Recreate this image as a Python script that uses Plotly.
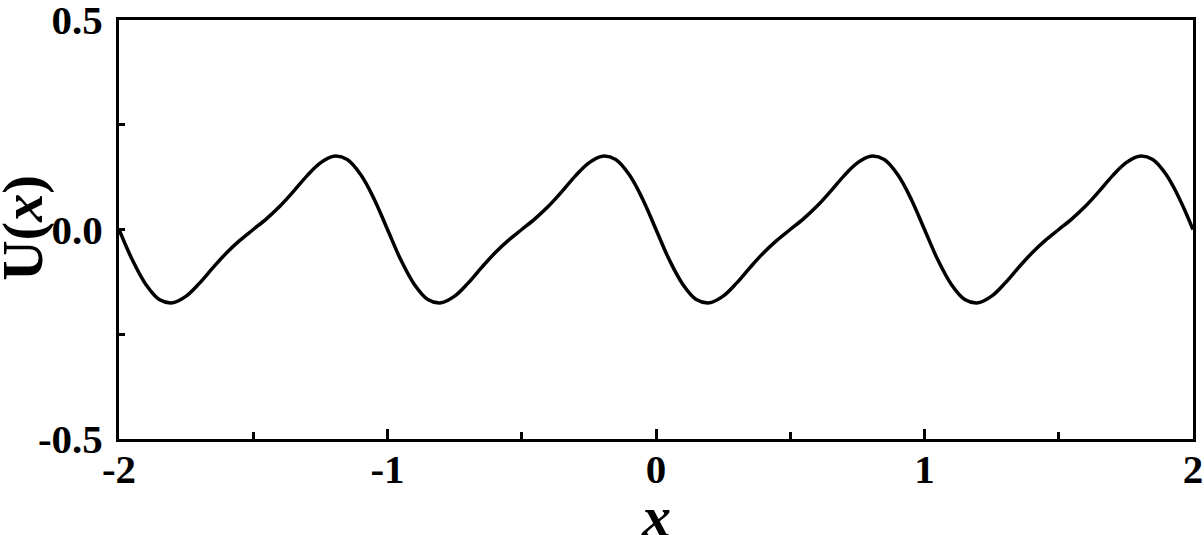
import plotly.graph_objects as go

# sample positions along x
x_vals = [-2.00, -1.95, -1.90, -1.85, -1.80, -1.75, -1.70, -1.65, -1.60, -1.55,
          -1.50, -1.45, -1.40, -1.35, -1.30, -1.25, -1.20, -1.15, -1.10, -1.05,
          -1.00, -0.95, -0.90, -0.85, -0.80, -0.75, -0.70, -0.65, -0.60, -0.55,
          -0.50, -0.45, -0.40, -0.35, -0.30, -0.25, -0.20, -0.15, -0.10, -0.05,
          0.00, 0.05, 0.10, 0.15, 0.20, 0.25, 0.30, 0.35, 0.40, 0.45,
          0.50, 0.55, 0.60, 0.65, 0.70, 0.75, 0.80, 0.85, 0.90, 0.95,
          1.00, 1.05, 1.10, 1.15, 1.20, 1.25, 1.30, 1.35, 1.40, 1.45,
          1.50, 1.55, 1.60, 1.65, 1.70, 1.75, 1.80, 1.85, 1.90, 1.95,
          2.00]

# potential U(x)
u_vals = [0.000, -0.073, -0.131, -0.167, -0.175, -0.159, -0.128, -0.091, -0.056, -0.026,
          0.000, 0.026, 0.056, 0.091, 0.128, 0.159, 0.175, 0.167, 0.131, 0.073,
          0.000, -0.073, -0.131, -0.167, -0.175, -0.159, -0.128, -0.091, -0.056, -0.026,
          0.000, 0.026, 0.056, 0.091, 0.128, 0.159, 0.175, 0.167, 0.131, 0.073,
          0.000, -0.073, -0.131, -0.167, -0.175, -0.159, -0.128, -0.091, -0.056, -0.026,
          0.000, 0.026, 0.056, 0.091, 0.128, 0.159, 0.175, 0.167, 0.131, 0.073,
          0.000, -0.073, -0.131, -0.167, -0.175, -0.159, -0.128, -0.091, -0.056, -0.026,
          0.000, 0.026, 0.056, 0.091, 0.128, 0.159, 0.175, 0.167, 0.131, 0.073,
          0.000]

x_ticks = [-2, -1, 0, 1, 2]
x_labels = ["-2", "-1", "0", "1", "2"]
y_ticks = [-0.5, 0.0, 0.5]
y_labels = ["-0.5", "0.0", "0.5"]

serif = "Liberation Serif"

fig = go.Figure()
fig.add_trace(go.Scatter(
    x=x_vals, y=u_vals, mode="lines",
    line=dict(color="black", width=3.5, shape="spline"),
    showlegend=False,
))

fig.update_layout(
    width=1204, height=535,
    margin=dict(l=119, r=11, t=20, b=96, autoexpand=False),
    plot_bgcolor="white", paper_bgcolor="white",
)

fig.update_xaxes(
    range=[-2, 2], tickvals=x_ticks, ticktext=x_labels,
    showline=True, linecolor="black", linewidth=3, mirror=True,
    ticks="inside", ticklen=10, tickwidth=2.5, tickcolor="black",
    minor=dict(ticks="inside", dtick=0.5, ticklen=7, tickwidth=2.5, tickcolor="black"),
    showgrid=False, zeroline=False, automargin=False,
    ticklabelstandoff=-8, ticklabeloverflow="allow",
    tickfont=dict(family=serif, size=41, color="black", weight="bold"),
)

fig.update_yaxes(
    range=[-0.5, 0.5], tickvals=y_ticks, ticktext=y_labels,
    showline=True, linecolor="black", linewidth=3, mirror=True,
    ticks="inside", ticklen=6, tickwidth=2.5, tickcolor="black",
    minor=dict(ticks="inside", dtick=0.25, ticklen=6, tickwidth=2.5, tickcolor="black"),
    showgrid=False, zeroline=False, automargin=False,
    ticklabelstandoff=5, ticklabeloverflow="allow",
    tickfont=dict(family=serif, size=41, color="black", weight="bold"),
)

# axis titles
fig.add_annotation(
    text="<i>x</i>", xref="paper", yref="paper", x=0.5, y=-0.185,
    xanchor="center", yanchor="middle", showarrow=False,
    font=dict(family=serif, size=58, color="black", weight="bold"),
)
fig.add_annotation(
    text="U(<i>x</i>)", xref="paper", yref="paper", x=-0.089, y=0.505,
    xanchor="center", yanchor="middle", showarrow=False, textangle=-90,
    font=dict(family=serif, size=56, color="black", weight="bold"),
)

# drop the default page margin so the figure sits at the window corner
fig.write_html("out.html", config={"displayModeBar": False},
               post_script="document.body.style.margin='0';document.body.style.overflow='hidden';")
